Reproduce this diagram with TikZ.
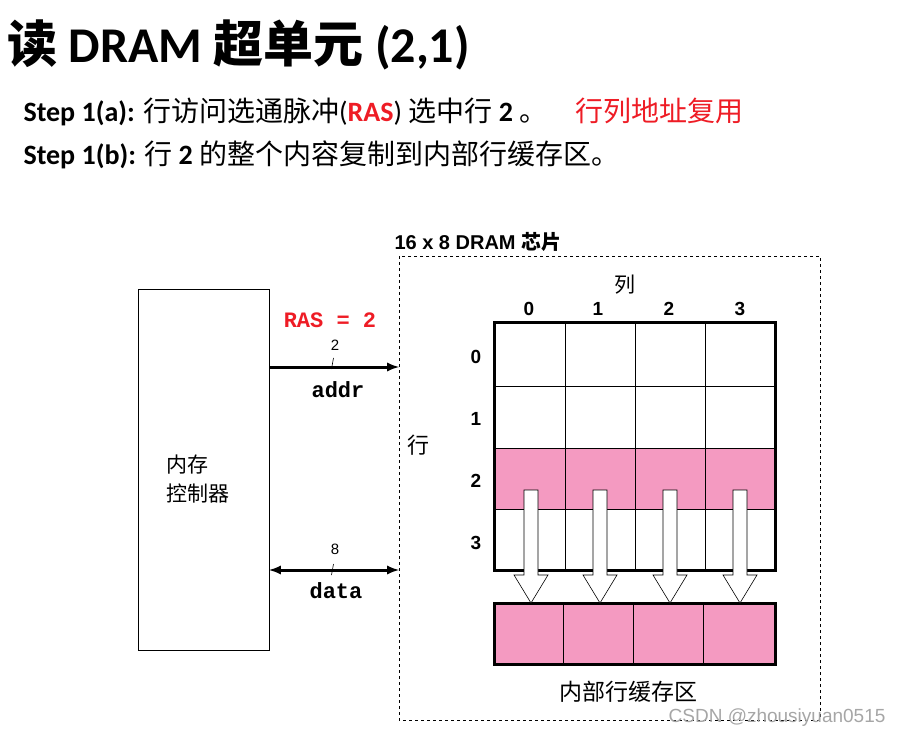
\documentclass[tikz,border=0pt]{standalone}
\usepackage{fontspec}
\setmainfont{Carlito}
\newfontfamily\cjk{Noto Sans CJK SC}
\newfontfamily\cjkb{Noto Sans CJK SC Bold}
\newfontfamily\ars{Liberation Sans}
\newfontfamily\mono{Liberation Mono}
\definecolor{pinkc}{HTML}{F49AC1}
\definecolor{redc}{HTML}{EE1C25}
\begin{document}
\begin{tikzpicture}[x=1pt,y=-1pt,
 thickline/.style={line width=3pt},
 lbl/.style={font=\ars\bfseries\fontsize{19}{19}\selectfont},
 blockarrow/.style={draw=black,fill=white,line width=0.6pt}]
\useasboundingbox (0,0) rectangle (903,738);
\node[anchor=west,font=\fontsize{50}{50}\selectfont\bfseries] (title) at (4,45) {{\cjkb 读} DRAM {\cjkb 超单元} (2,1)};
\node[anchor=west,font=\fontsize{28}{28}\selectfont] (s1) at (20,112) {\textbf{Step 1(a):} {\cjk 行访问选通脉冲}(\textbf{\textcolor{redc}{RAS}}) {\cjk 选中行} \textbf{2} {\cjk 。}\quad\textcolor{redc}{\cjk 行列地址复用}};
\node[anchor=west,font=\fontsize{28}{28}\selectfont] (s2) at (20,155) {\textbf{Step 1(b):} {\cjk 行} \textbf{2} {\cjk 的整个内容复制到内部行缓存区。}};
% chip
\draw[dashed,line width=0.5pt] (399,256) rectangle (820,720);
\node[anchor=west,font=\ars\bfseries\fontsize{20}{20}\selectfont] (chip) at (391,242) {16 x 8 DRAM {\cjk 芯片}};
% controller
\draw[line width=0.6pt] (138,289) rectangle (269,650);
\node[anchor=west,align=left,font=\cjk\fontsize{21}{29}\selectfont] (mc) at (163,479) {内存\\控制器};
\coordinate (a1) at (269,367); \coordinate (a2) at (399,367);
\draw[thickline,-latex] (a1) -- (a2);
\node[font=\mono\bfseries\fontsize{22}{22}\selectfont,text=redc] (ras) at (330,320) {RAS = 2};
\node[font=\ars\fontsize{15}{15}\selectfont] (n2) at (335,345) {2};
\draw[line width=0.6pt] (333.5,358) -- (331.5,369);
\node[font=\mono\bfseries\fontsize{22}{22}\selectfont] (addr) at (338,390) {addr};
\coordinate (d1) at (269,570); \coordinate (d2) at (399,570);
\draw[thickline,latex-latex] (d1) -- (d2);
\node[font=\ars\fontsize{15}{15}\selectfont] (n8) at (335,549) {8};
\draw[line width=0.6pt] (333.5,564) -- (331.5,575);
\node[font=\mono\bfseries\fontsize{22}{22}\selectfont] (data) at (336,591) {data};
\node[font=\cjk\fontsize{22}{22}\selectfont] (hang) at (418,445) {行};
% grid
\fill[pinkc] (494,448) rectangle (775,509);
\foreach \x in {565,635,705} \draw[line width=0.6pt] (\x,323) -- (\x,570);
\foreach \y in {386,448,509} \draw[line width=0.6pt] (494,\y) -- (775,\y);
\draw[line width=3pt] (494,323) rectangle (775,570);
\node[font=\cjk\fontsize{21}{21}\selectfont] (lie) at (625,285) {列};
\foreach \t/\x in {0/529,1/598,2/669,3/740} \node[lbl] (c\t) at (\x,309) {\t};
\foreach \t/\y in {0/357,1/419,2/481,3/543} \node[lbl] (r\t) at (476,\y) {\t};
% buffer
\fill[pinkc] (494,603) rectangle (775,664);
\foreach \x in {563,633,703} \draw[line width=0.6pt] (\x,603) -- (\x,664);
\draw[line width=3pt] (494,603) rectangle (775,664);
\node[font=\cjk\fontsize{23}{23}\selectfont] (buf) at (628,692) {内部行缓存区};
% block arrows
\foreach \x in {531,600,670,740}
 \draw[blockarrow] (\x-7,490) -- (\x+7,490) -- (\x+7,575) -- (\x+17,575) -- (\x,603) -- (\x-17,575) -- (\x-7,575) -- cycle;
\node[anchor=east,font=\ars\fontsize{19}{19}\selectfont,text=black!35] (wm) at (889,718) {CSDN @zhousiyuan0515};
\end{tikzpicture}
\end{document}
